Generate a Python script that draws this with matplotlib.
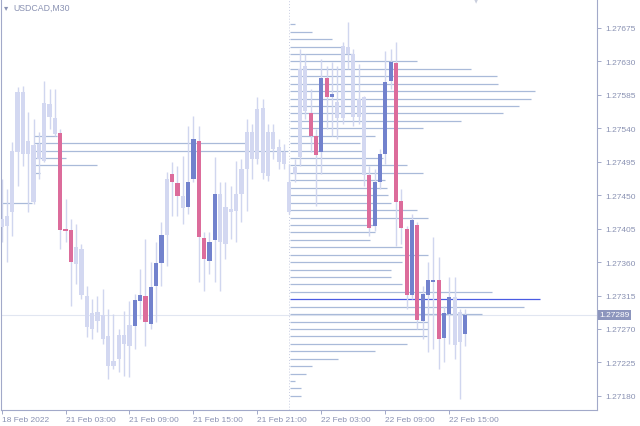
import matplotlib
matplotlib.use("Agg")
import matplotlib.pyplot as plt
import matplotlib.transforms as mtransforms

# M30 bars, bar 0 = first visible bar (18 Feb)
opens = [1.27407, 1.27409, 1.27427, 1.27508, 1.27589, 1.27506, 1.27518, 1.27499, 1.27496, 1.27573,
         1.27554, 1.27534, 1.27405, 1.27403, 1.27380, 1.27378, 1.27314, 1.27270, 1.27293, 1.27289,
         1.27261, 1.27220, 1.27230, 1.27262, 1.27247, 1.27274, 1.27308, 1.27314, 1.27277, 1.27328,
         1.27359, 1.27396, 1.27479, 1.27466, 1.27449, 1.27434, 1.27472, 1.27523, 1.27392, 1.27361,
         1.27390, 1.27452, 1.27384, 1.27431, 1.27429, 1.27452, 1.27485, 1.27535, 1.27499, 1.27567,
         1.27476, 1.27535, 1.27515, 1.27492, 1.27468, 1.27479, 1.27501, 1.27624, 1.27561, 1.27530,
         1.27508, 1.27608, 1.27582, 1.27575, 1.27554, 1.27649, 1.27640, 1.27555, 1.27582, 1.27477,
         1.27409, 1.27468, 1.27506, 1.27604, 1.27628, 1.27442, 1.27405, 1.27316, 1.27410, 1.27281,
         1.27316, 1.27333, 1.27336, 1.27258, 1.27290, 1.27313, 1.27253, 1.27263]
highs = [1.27472, 1.27458, 1.27522, 1.27596, 1.27597, 1.27562, 1.27553, 1.27535, 1.27604, 1.27593,
         1.27593, 1.27539, 1.27445, 1.27418, 1.27411, 1.27384, 1.27328, 1.27310, 1.27314, 1.27324,
         1.27297, 1.27290, 1.27270, 1.27294, 1.27308, 1.27317, 1.27351, 1.27391, 1.27360, 1.27387,
         1.27414, 1.27481, 1.27495, 1.27489, 1.27503, 1.27543, 1.27557, 1.27543, 1.27400, 1.27400,
         1.27501, 1.27468, 1.27468, 1.27462, 1.27496, 1.27499, 1.27553, 1.27546, 1.27582, 1.27580,
         1.27546, 1.27546, 1.27526, 1.27519, 1.27492, 1.27499, 1.27647, 1.27640, 1.27593, 1.27539,
         1.27633, 1.27624, 1.27629, 1.27624, 1.27656, 1.27683, 1.27647, 1.27627, 1.27584, 1.27489,
         1.27485, 1.27512, 1.27644, 1.27647, 1.27656, 1.27458, 1.27409, 1.27425, 1.27414, 1.27328,
         1.27360, 1.27394, 1.27367, 1.27301, 1.27340, 1.27340, 1.27297, 1.27297]
lows = [1.27387, 1.27360, 1.27395, 1.27462, 1.27489, 1.27427, 1.27438, 1.27472, 1.27495, 1.27539,
        1.27530, 1.27378, 1.27387, 1.27301, 1.27331, 1.27310, 1.27259, 1.27257, 1.27266, 1.27250,
        1.27203, 1.27216, 1.27212, 1.27207, 1.27205, 1.27243, 1.27284, 1.27247, 1.27270, 1.27279,
        1.27328, 1.27355, 1.27422, 1.27422, 1.27411, 1.27425, 1.27468, 1.27333, 1.27321, 1.27344,
        1.27333, 1.27321, 1.27364, 1.27391, 1.27387, 1.27414, 1.27429, 1.27472, 1.27492, 1.27472,
        1.27469, 1.27499, 1.27485, 1.27485, 1.27425, 1.27468, 1.27489, 1.27553, 1.27508, 1.27436,
        1.27479, 1.27539, 1.27530, 1.27526, 1.27546, 1.27620, 1.27543, 1.27546, 1.27462, 1.27395,
        1.27402, 1.27458, 1.27492, 1.27593, 1.27382, 1.27384, 1.27297, 1.27310, 1.27270, 1.27257,
        1.27239, 1.27243, 1.27216, 1.27226, 1.27250, 1.27230, 1.27176, 1.27247]
closes = [1.27418, 1.27422, 1.27510, 1.27589, 1.27506, 1.27523, 1.27441, 1.27519, 1.27574, 1.27555,
          1.27532, 1.27403, 1.27402, 1.27360, 1.27357, 1.27316, 1.27273, 1.27292, 1.27281, 1.27257,
          1.27220, 1.27227, 1.27262, 1.27250, 1.27275, 1.27309, 1.27316, 1.27279, 1.27327, 1.27359,
          1.27396, 1.27472, 1.27468, 1.27449, 1.27433, 1.27468, 1.27526, 1.27394, 1.27364, 1.27387,
          1.27452, 1.27387, 1.27434, 1.27427, 1.27452, 1.27485, 1.27535, 1.27499, 1.27566, 1.27480,
          1.27535, 1.27512, 1.27495, 1.27508, 1.27427, 1.27488, 1.27620, 1.27563, 1.27530, 1.27504,
          1.27608, 1.27582, 1.27586, 1.27554, 1.27651, 1.27640, 1.27555, 1.27580, 1.27477, 1.27406,
          1.27468, 1.27506, 1.27602, 1.27629, 1.27441, 1.27406, 1.27316, 1.27417, 1.27282, 1.27317,
          1.27336, 1.27336, 1.27257, 1.27292, 1.27313, 1.27249, 1.27293, 1.27289]
# u = highlighted up bar, d = highlighted down bar, n = pale bar
kinds = ("nnnnnnnnnnnddd" "nnnnnnnnnnn" "uudu" "uun" "ddn" "uudduu" "nnnnnnnnnnnnnnnnn"
         "dd" "udu" "nnnnnn" "d" "uuuu" "ddd" "udu" "uud" "uu" "nn" "u")

bid = 1.27289

xtick_bars = [0, 12, 24, 36, 48, 60, 72, 84]
xtick_labels = ["18 Feb 2022", "21 Feb 03:00", "21 Feb 09:00", "21 Feb 15:00",
                "21 Feb 21:00", "22 Feb 03:00", "22 Feb 09:00", "22 Feb 15:00"]
ytick_vals = [1.27180, 1.27225, 1.27270, 1.27315, 1.27360, 1.27405,
              1.27450, 1.27495, 1.27540, 1.27585, 1.27630, 1.27675]

# volume profile of 22 Feb session (starts at bar 54)
vp_start = 54.1
vp_levels = [1.2768, 1.2767, 1.2766, 1.2765, 1.2764, 1.2763, 1.2762, 1.2761, 1.2760, 1.2759,
             1.2758, 1.2757, 1.2756, 1.2755, 1.2754, 1.2753, 1.2752, 1.2751, 1.2750, 1.2749,
             1.2748, 1.2747, 1.2746, 1.2745, 1.2744, 1.2743, 1.2742, 1.2741, 1.2740, 1.2739,
             1.2738, 1.2737, 1.2736, 1.2735, 1.2734, 1.2733, 1.2732, 1.2731, 1.2730, 1.2729,
             1.2728, 1.2727, 1.2726, 1.2725, 1.2724, 1.2723, 1.2722, 1.2721, 1.2720, 1.2719, 1.2718]
vp_width = [0.9, 4.1, 7.9, 9.8, 11.6, 23.8, 34.0, 38.8, 39.0, 46.0,
            45.2, 43.0, 40.0, 32.1, 25.0, 15.9, 13.1, 14.1, 17.4, 21.9,
            25.0, 17.8, 18.2, 18.4, 19.0, 23.8, 25.9, 15.9, 15.9, 15.0,
            21.0, 25.9, 21.0, 19.0, 19.0, 21.0, 37.9, 46.9, 43.9, 36.0,
            25.9, 25.9, 25.7, 21.9, 15.9, 9.0, 4.1, 3.0, 0.9, 2.1, 2.1]
poc = 1.2731

# what is visible of the earlier sessions' profiles
old_start = [-6.0, 6.1, 6.1, 6.1, 6.1, 6.1, 6.1]
old_levels = [1.2744, 1.2753, 1.2752, 1.2751, 1.2750, 1.2749, 1.2748]
old_width = [11.7, 4.3, 40.0, 47.7, 6.0, 11.8, 1.1]

up_col = "#7282cd"
dn_col = "#dc6c9b"
pale_col = "#d3d8f1"
wick_col = "#d0d6ef"
vp_col = "#a9bad9"
poc_col = "#4a5be3"
txt_col = "#8a92b3"
frame_col = "#a2a9c9"

plt.rcParams["font.family"] = ["Liberation Sans", "DejaVu Sans"]

fig = plt.figure(figsize=(6.4, 4.27), dpi=100)
ax = fig.add_axes([1 / 640, 16 / 427, 596 / 640, 411 / 427])

n = len(opens)
bars = list(range(n))

# profiles behind candles
ax.hlines(old_levels, old_start, [s + w for s, w in zip(old_start, old_width)],
          colors=vp_col, lw=0.9, zorder=1)
vp_cols = [poc_col if abs(l - poc) < 1e-6 else vp_col for l in vp_levels]
ax.hlines(vp_levels, vp_start, [vp_start + w for w in vp_width],
          colors=vp_cols, lw=0.9, zorder=1)

ax.axhline(bid, color="#e1e6f1", lw=0.8, zorder=0.5)
ax.axvline(54, color="#c9cee2", lw=0.7, ls=(0, (1, 2)), zorder=0.5)

# candles
ax.vlines(bars, lows, highs, colors=wick_col, lw=1.0, zorder=2)
body_cols = [{"u": up_col, "d": dn_col, "n": pale_col}[k] for k in kinds]
bottoms = [min(o, c) for o, c in zip(opens, closes)]
heights = [max(abs(c - o), 0.000025) for o, c in zip(opens, closes)]
ax.bar(bars, heights, bottom=bottoms, width=0.78, color=body_cols, lw=0, zorder=3)

ax.set_xlim(-0.1, 111.7)
ax.set_ylim(1.27161, 1.27714)

# axes look
for side in ["top"]:
    ax.spines[side].set_visible(False)
for side in ["left", "right", "bottom"]:
    ax.spines[side].set_color(frame_col)
    ax.spines[side].set_linewidth(0.8)

ax.yaxis.tick_right()
ax.set_yticks(ytick_vals)
ax.set_yticklabels([f"{v:.5f}" for v in ytick_vals])
ax.tick_params(axis="y", direction="out", length=3, width=0.7, color=frame_col,
               labelcolor=txt_col, labelsize=6, pad=3)
ax.set_xticks(xtick_bars)
ax.set_xticklabels(xtick_labels, ha="left")
ax.tick_params(axis="x", direction="out", length=3, width=0.7, color=frame_col,
               labelcolor=txt_col, labelsize=6, pad=1.5)

# current price tag
tr = mtransforms.blended_transform_factory(ax.transAxes, ax.transData)
ax.text(1.004, bid, "1.27289", transform=tr, ha="left", va="center", fontsize=6,
        color="white", clip_on=False,
        bbox=dict(boxstyle="square,pad=0.15", fc="#8c95bd", ec="none"))

# symbol caption and shift marker
fig.text(4 / 640, 1 - 8 / 427, "\u25be", color=txt_col, fontsize=6, va="center", ha="left",
         family="DejaVu Sans")
fig.text(13 / 640, 1 - 8 / 427, "USDCAD,M30", color=txt_col, fontsize=6.3, va="center", ha="left")
fig.text(476 / 640, 1 - 1.5 / 427, "\u25bc", color="#c9cedd", fontsize=4, va="center",
         ha="center", family="DejaVu Sans")

fig.savefig("out.png", dpi=100, facecolor="white")
